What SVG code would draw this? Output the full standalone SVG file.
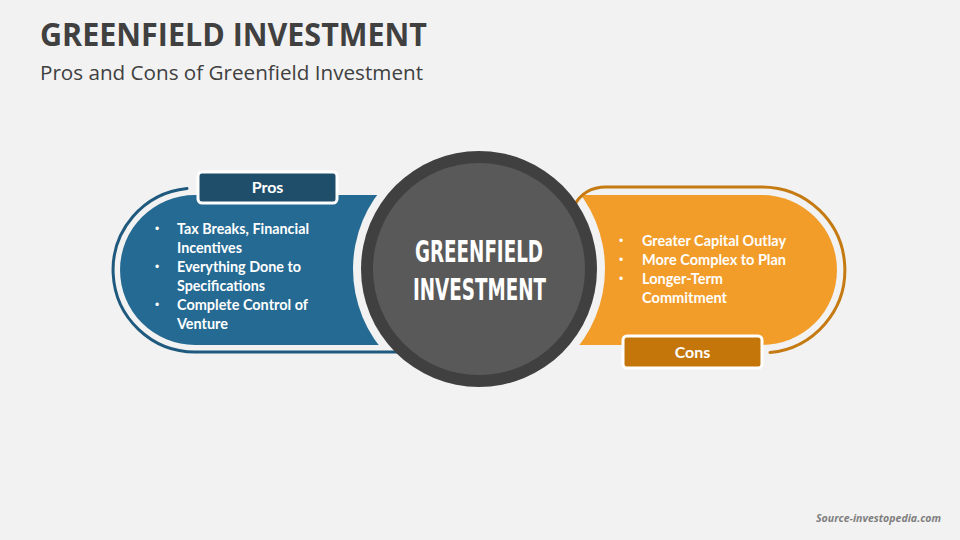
<svg xmlns="http://www.w3.org/2000/svg" width="960" height="540" viewBox="0 0 960 540">
<style>
.title{font-family:"Open Sans","Liberation Sans",sans-serif;font-weight:700;font-size:32px;fill:#404040}
.sub{font-family:"Open Sans","Liberation Sans",sans-serif;font-size:20px;fill:#404040}
.item{font-family:Lato,"Liberation Sans",sans-serif;font-weight:700;font-size:15px;fill:#ffffff}
.dot{font-family:"Liberation Sans",sans-serif;font-size:12px;fill:#ffffff}
.lbl{font-family:Lato,"Liberation Sans",sans-serif;font-weight:700;font-size:16px;fill:#ffffff;text-anchor:middle}
.center{font-family:"DejaVu Sans Condensed","DejaVu Sans",sans-serif;font-stretch:condensed;font-weight:700;font-size:31px;fill:#ffffff}
.src{font-family:"Open Sans","Liberation Sans",sans-serif;font-weight:700;font-style:italic;font-size:11px;fill:#7f7f7f}
.arc{fill:none;stroke-width:3;stroke-linecap:round}
</style>
<rect width="960" height="540" fill="#F2F2F2"/>
<text class="title" x="40" y="46" textLength="387" lengthAdjust="spacingAndGlyphs">GREENFIELD INVESTMENT</text>
<text class="sub" x="40" y="80" textLength="383" lengthAdjust="spacingAndGlyphs">Pros and Cons of Greenfield Investment</text>

<g id="pros">
<path d="M195 195 L430 195 L430 345 L195 345 A75 75 0 0 1 195 195 Z" fill="#256A93"/>
</g>
<g id="cons">
<path d="M520 195 L762 195 A75 75 0 0 1 762 345 L520 345 Z" fill="#F29D2A"/>
</g>
<circle cx="479" cy="269" r="126" fill="#F2F2F2"/>
<g id="connectors">
<path class="arc" stroke="#1F5A7E" d="M187 188.4 A82 82 0 0 0 195 352 L400 352"/>
<path class="arc" stroke="#C57A12" d="M574 206 Q584 187 606 187 L762 187 A83 83 0 0 1 770 352.6"/>
</g>
<g id="pros-label">
<rect x="198" y="172" width="139" height="31" rx="4" fill="#1F4E6A" stroke="#ffffff" stroke-width="3"/>
<text class="lbl" x="267.5" y="193">Pros</text>
</g>
<g id="pros-items">
<text class="dot" x="155" y="233">•</text>
<text class="item" x="177" y="234" textLength="132" lengthAdjust="spacingAndGlyphs">Tax Breaks, Financial</text>
<text class="item" x="177" y="253" textLength="65" lengthAdjust="spacingAndGlyphs">Incentives</text>
<text class="dot" x="155" y="271">•</text>
<text class="item" x="177" y="272" textLength="124" lengthAdjust="spacingAndGlyphs">Everything Done to</text>
<text class="item" x="177" y="291" textLength="88" lengthAdjust="spacingAndGlyphs">Specifications</text>
<text class="dot" x="155" y="309">•</text>
<text class="item" x="177" y="310" textLength="131" lengthAdjust="spacingAndGlyphs">Complete Control of</text>
<text class="item" x="177" y="329" textLength="51" lengthAdjust="spacingAndGlyphs">Venture</text>
</g>
<g id="cons-label">
<rect x="623" y="336" width="139" height="32" rx="4" fill="#C5760A" stroke="#ffffff" stroke-width="3"/>
<text class="lbl" x="692.5" y="358">Cons</text>
</g>
<g id="cons-items">
<text class="dot" x="619" y="245">•</text>
<text class="item" x="642" y="246" textLength="144" lengthAdjust="spacingAndGlyphs">Greater Capital Outlay</text>
<text class="dot" x="619" y="264">•</text>
<text class="item" x="642" y="265" textLength="144" lengthAdjust="spacingAndGlyphs">More Complex to Plan</text>
<text class="dot" x="619" y="283">•</text>
<text class="item" x="642" y="284" textLength="81" lengthAdjust="spacingAndGlyphs">Longer-Term</text>
<text class="item" x="642" y="303" textLength="85" lengthAdjust="spacingAndGlyphs">Commitment</text>
</g>
<g id="center">
<circle cx="479" cy="269" r="118" fill="#404040"/>
<circle cx="479" cy="269" r="106" fill="#595959"/>
<text class="center" x="415" y="262" textLength="128" lengthAdjust="spacingAndGlyphs">GREENFIELD</text>
<text class="center" x="413" y="300" textLength="133" lengthAdjust="spacingAndGlyphs">INVESTMENT</text>
</g>
<text class="src" x="816" y="522" textLength="125" lengthAdjust="spacingAndGlyphs">Source-investopedia.com</text>
</svg>
